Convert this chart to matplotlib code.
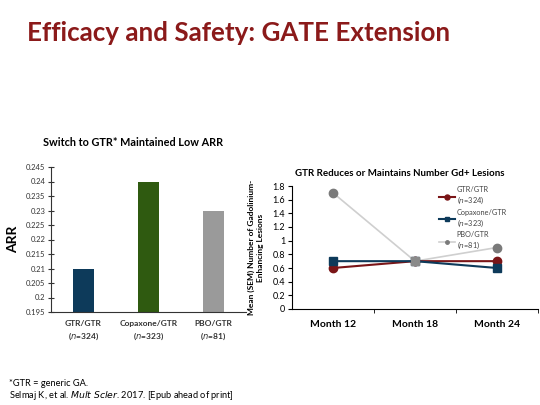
import matplotlib
matplotlib.use("Agg")
import matplotlib.pyplot as plt
import numpy as np

plt.rcParams['font.family'] = ['Lato', 'DejaVu Sans']

# left chart: annualised relapse rate
arr_groups = ["GTR/GTR", "Copaxone/GTR", "PBO/GTR"]
arr_n = ["324", "323", "81"]
arr_values = [0.21, 0.24, 0.23]
arr_colors = ["#0d3a5a", "#2f5a10", "#9a9a9a"]
arr_ticks = [0.195, 0.2, 0.205, 0.21, 0.215, 0.22, 0.225, 0.23, 0.235, 0.24, 0.245]

# right chart: Gd+ lesions
months = ["Month 12", "Month 18", "Month 24"]
gd_gtr = [0.6, 0.7, 0.7]
gd_cop = [0.7, 0.7, 0.6]
gd_pbo = [1.7, 0.7, 0.9]
gd_ticks = [0, 0.2, 0.4, 0.6, 0.8, 1, 1.2, 1.4, 1.6, 1.8]

W, H = 540, 405
fig = plt.figure(figsize=(W / 100, H / 100), dpi=100)

def px_axes(x0, y0, x1, y1):
    return fig.add_axes([x0 / W, 1 - y1 / H, (x1 - x0) / W, (y1 - y0) / H])

fig.text(27 / W, 1 - 33 / H, "Efficacy and Safety: GATE Extension",
         fontsize=18.7, fontweight='bold', color="#8b1a1a", va='center', ha='left')

# ---- left: ARR bars ----
ax1 = px_axes(51, 167, 246, 312)
x = np.arange(len(arr_groups))
ax1.bar(x, arr_values, width=0.31, color=arr_colors)
ax1.set_xlim(-0.5, 2.5)
ax1.set_ylim(arr_ticks[0], arr_ticks[-1])
ax1.set_yticks(arr_ticks)
ax1.set_yticklabels(["%g" % t for t in arr_ticks])
ax1.tick_params(axis='y', labelsize=5.5, direction='inout', length=4, width=0.8, pad=2, colors='#333333')
ax1.tick_params(axis='x', length=0, pad=6)
ax1.set_xticks(x)
ax1.set_xticklabels([g + "\n" + "($\\it{n}$=" + n + ")" for g, n in zip(arr_groups, arr_n)],
                    fontsize=6, fontweight='bold', color='#333333', linespacing=1.4)
for s in ["top", "right"]:
    ax1.spines[s].set_visible(False)
for s in ["left", "bottom"]:
    ax1.spines[s].set_color('#333333')
ax1.set_ylabel("ARR", fontsize=10, fontweight='bold', labelpad=5)
fig.text(133 / W, 1 - 143 / H, "Switch to GTR* Maintained Low ARR",
         fontsize=7.8, fontweight='bold', ha='center', va='center')

# ---- right: Gd+ lesion lines ----
ax2 = px_axes(292, 186, 538, 309)
xm = np.arange(len(months))
ax2.plot(xm, gd_pbo, color="#cfcfcf", lw=1.2, marker='o', ms=6,
         mfc="#7a7a7a", mec="#7a7a7a", label="PBO/GTR\n($\\it{n}$=81)", zorder=2)
ax2.plot(xm, gd_gtr, color="#7a1517", lw=1.5, marker='o', ms=6,
         label="GTR/GTR\n($\\it{n}$=324)", zorder=3)
ax2.plot(xm, gd_cop, color="#0d3a5a", lw=1.5, marker='s', ms=6,
         label="Copaxone/GTR\n($\\it{n}$=323)", zorder=4)
ax2.plot([1], [gd_pbo[1]], marker='s', ms=6, color="#8a8a8a", zorder=5, ls='none')
ax2.set_xlim(-0.5, 2.5)
ax2.set_ylim(0, 1.8)
ax2.set_yticks(gd_ticks)
ax2.set_yticklabels(["%g" % t for t in gd_ticks])
ax2.tick_params(axis='y', labelsize=6.5, direction='out', length=3, pad=2)
ax2.set_xticks(xm)
ax2.set_xticklabels(months, fontsize=7.5, fontweight='bold')
ax2.set_xticks([0.5, 1.5, 2.5], minor=True)
ax2.tick_params(axis='x', which='major', length=0, pad=8)
ax2.tick_params(axis='x', which='minor', length=3, direction='out')
for s in ["top", "right"]:
    ax2.spines[s].set_visible(False)
ax2.set_ylabel("Mean (SEM) Number of Gadolinium-\nEnhancing Lesions", fontsize=6,
               fontweight='bold', labelpad=6, linespacing=1.3)
handles, labels = ax2.get_legend_handles_labels()
order = [1, 2, 0]
leg = ax2.legend([handles[i] for i in order], [labels[i] for i in order],
                 loc='upper right', bbox_to_anchor=(0.9, 1.05), frameon=False,
                 fontsize=5.3, handlelength=2.2, markerscale=0.6, labelspacing=0.35,
                 handletextpad=0.2, labelcolor='#444444')
leg.legend_handles[2].set_markersize(2.5)
fig.text(400 / W, 1 - 174 / H, "GTR Reduces or Maintains Number Gd+ Lesions",
         fontsize=7, fontweight='bold', ha='center', va='center')

# footnotes
fig.text(9 / W, 1 - 383 / H, "*GTR = generic GA.", fontsize=6.7, va='center')
fig.text(9 / W, 1 - 396 / H, "Selmaj K, et al. $\\it{Mult\\ Scler}$. 2017. [Epub ahead of print]",
         fontsize=6.7, va='center')

fig.savefig("out.png", dpi=100)
